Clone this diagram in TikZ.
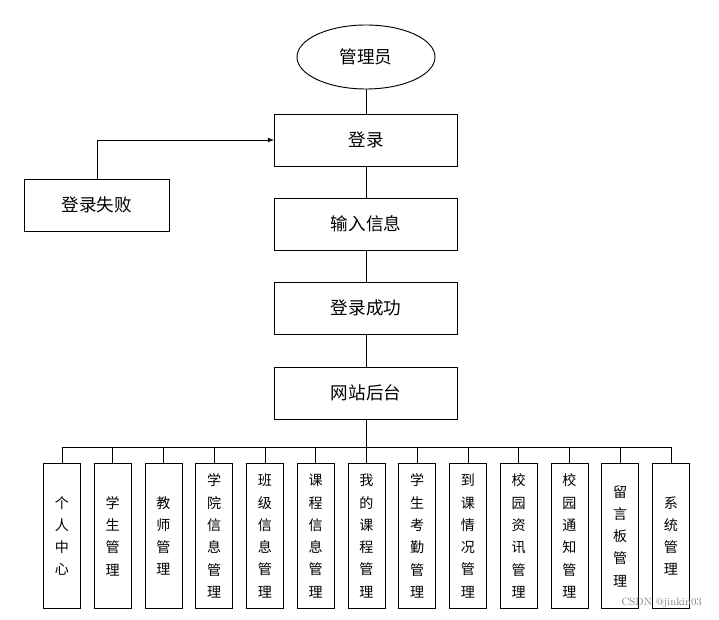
\documentclass[tikz,border=0pt]{standalone}
\usepackage{fontspec}
\newfontfamily\cjk{Noto Sans CJK SC}
\usetikzlibrary{shapes.geometric}

\begin{document}
\begin{tikzpicture}[x=0.03cm,y=-0.03cm,
  box/.style={draw,thick,minimum width=183*0.03cm,minimum height=52*0.03cm,font=\cjk\fontsize{15}{18}\selectfont},
  leaf/.style={draw,thick,minimum width=37*0.03cm,minimum height=145*0.03cm,align=center,font=\cjk\fontsize{12}{19}\selectfont},
  link/.style={thick}]
\useasboundingbox (0,0) rectangle (719,620);

\node[draw,thick,ellipse,minimum width=138*0.03cm,minimum height=64*0.03cm,font=\cjk\fontsize{15}{18}\selectfont] (admin) at (366,57) {管理员};
\node[box] (login) at (366,140) {登录};
\node[box] (input) at (366,224) {输入信息};
\node[box] (ok) at (366,308) {登录成功};
\node[box] (back) at (366,393) {网站后台};
\node[box,minimum width=145*0.03cm] (fail) at (97,205) {登录失败};

\draw[link] (admin) -- (login);
\draw[link] (login) -- (input);
\draw[link] (input) -- (ok);
\draw[link] (ok) -- (back);
\draw[link,-latex] (fail.north) |- (login.west);

\coordinate (bus) at (366,447);
\draw[link] (back) -- (bus);
\draw[link] (62,447) -- (671,447);

% leaves
\foreach \i/\t in {0/个\\人\\中\\心,1/学\\生\\管\\理,2/教\\师\\管\\理,3/学\\院\\信\\息\\管\\理,
  4/班\\级\\信\\息\\管\\理,5/课\\程\\信\\息\\管\\理,6/我\\的\\课\\程\\管\\理,7/学\\生\\考\\勤\\管\\理,
  8/到\\课\\情\\况\\管\\理,9/校\\园\\资\\讯\\管\\理,10/校\\园\\通\\知\\管\\理,11/留\\言\\板\\管\\理,12/系\\统\\管\\理}{
  \node[leaf] (m\i) at ({62+50.75*\i},536) {\t};
  \draw[link] ({62+50.75*\i},447) -- (m\i.north);
}

\node[anchor=south east,text=gray,font=\fontsize{9}{10}\selectfont] (mark) at (706,612) {CSDN @jinkin03};
\end{tikzpicture}
\end{document}
